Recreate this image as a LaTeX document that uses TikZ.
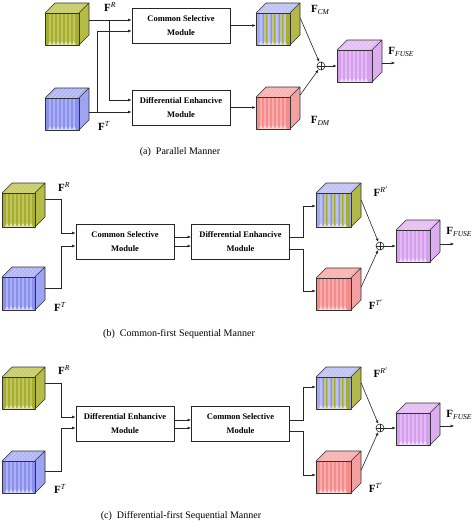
\documentclass[tikz,border=0pt]{standalone}
\usepackage{fontspec}
\setmainfont{Liberation Serif}
\usetikzlibrary{arrows.meta,fit}
\definecolor{gfront}{HTML}{A6AE2E}\definecolor{glight}{HTML}{D0D47E}\definecolor{gtop}{HTML}{C6CB68}\definecolor{gside}{HTML}{B4BB46}
\definecolor{bfront}{HTML}{8A90EE}\definecolor{blight}{HTML}{C2C6F8}\definecolor{btop}{HTML}{ACB0F3}\definecolor{bside}{HTML}{9EA4F2}
\definecolor{rfront}{HTML}{F48C8C}\definecolor{rlight}{HTML}{F9C0C0}\definecolor{rtop}{HTML}{F7AFAF}\definecolor{rside}{HTML}{F3A0A0}
\definecolor{pfront}{HTML}{D69EEE}\definecolor{plight}{HTML}{ECCDF8}\definecolor{ptop}{HTML}{E3BAF4}\definecolor{pside}{HTML}{DCADF1}
\definecolor{mfront}{HTML}{A4A9EF}\definecolor{mlight}{HTML}{CBCEF7}\definecolor{mtop}{HTML}{BEC1F2}\definecolor{mside}{HTML}{B2B84A}
\newcommand\drawcube[7]{%
  \fill[#6side] (#4,#3) -- (#4+10,#3-10) -- (#4+10,#5-10) -- (#4,#5) -- cycle;
  \fill[#6top] (#2,#3) -- (#2+10,#3-10) -- (#4+10,#3-10) -- (#4,#3) -- cycle;
  \fill[#6front] (#2,#3) rectangle (#4,#5);
  #7
  \foreach \sx in {4,8,...,30} {
    \fill[#6light,opacity=.6] (#2+\sx,#3) rectangle (#2+\sx+1.8,#5);
    \fill[#6light] (#2+\sx,#3) -- (#2+\sx+10,#3-10) -- (#2+\sx+11.8,#3-10) -- (#2+\sx+1.8,#3) -- cycle;
    \fill[white,opacity=.5] (#2+\sx-1.5,#5) -- (#2+\sx+0.9,#5-4) -- (#2+\sx+3.3,#5) -- cycle;
  }
  \draw[cubeedge] (#2,#3) rectangle (#4,#5);
  \draw[cubeedge] (#2,#3) -- (#2+10,#3-10) -- (#4+10,#3-10) -- (#4+10,#5-10) -- (#4,#5) (#4+10,#3-10) -- (#4,#3);
  \node[fit={(#2,#3-10) (#4+10,#5)}, inner sep=0] (#1) {};
}
\newcommand\greenbands[3]{%
  \foreach \sx in {7,15,23} {\fill[gfront] (#1+\sx,#2) rectangle (#1+\sx+4,#3);}
  \fill[gfront] (#1+30,#2) rectangle (#1+34,#3);
}
\newcommand\mysup[1]{\textsuperscript{\itshape #1}}
\newcommand\mysub[1]{\raisebox{-.5ex}{\fontsize{7.5}{8}\selectfont\itshape #1}}
\tikzset{
  conn/.style={draw=black!85, line width=0.6pt},
  arr/.style={conn, -{Latex[length=3.5pt,width=2.8pt]}},
  modbox/.style={draw=black!85, line width=0.7pt, minimum width=98pt, minimum height=35pt, inner sep=0, align=center, font=\fontsize{8.5}{14}\selectfont\bfseries},
  lab/.style={font=\fontsize{11}{12}\selectfont, inner sep=0},
  captext/.style={font=\fontsize{10}{12}\selectfont, inner sep=0},
  osum/.style={draw=black!85, circle, minimum size=8pt, inner sep=0, line width=0.6pt},
  cubeedge/.style={draw=black!80, line width=0.6pt, line join=round},
}
\begin{document}
\begin{tikzpicture}[x=1pt,y=-1pt]
\useasboundingbox[fill=white] (0,0) rectangle (474,523);
% ---------------- (a) ----------------
\drawcube{gA}{45}{13}{79}{45}{g}{}
\drawcube{bA}{45}{98}{79}{130}{b}{}
\node[modbox] (csA) at (181,25.5) {Common Selective\\Module};
\node[modbox] (deA) at (181,107.5) {Differential Enhancive\\Module};
\coordinate (gAo) at ([yshift=4pt]gA.east);
\coordinate (bAo) at ([yshift=-3pt]bA.east);
\draw[arr] (gAo) -- (gAo -| csA.west);
\draw[arr] (gAo) ++(20,0) |- ([yshift=7.5pt]deA.west);
\draw[arr] (bAo) -- (bAo -| deA.west);
\draw[arr] (bAo) ++(8,0) |- ([yshift=-5.5pt]csA.west);
\drawcube{cmA}{256}{13}{290}{45}{m}{\greenbands{256}{13}{45}}
\drawcube{dmA}{256}{97}{290}{129}{r}{}
\draw[arr] (csA.east) -- (csA.east -| cmA.west);
\draw[arr] (deA.east) -- (deA.east -| dmA.west);
\node[osum] (oA) at (321,66) {};
\draw[conn] (oA.north) -- (oA.south) (oA.east) -- (oA.west);
\draw[arr] ([yshift=6pt]cmA.east) -- (oA);
\draw[arr] ([yshift=13pt]dmA.east) -- (oA);
\drawcube{fuA}{337}{50}{372}{82}{p}{}
\draw[arr] (oA) -- (oA -| fuA.west);
\draw[arr] ([yshift=-2pt]fuA.east) -- ++(13,0);
\node[lab] (lRa) at (110,7) {\textbf{F}\mysup{R}};
\node[lab] (lTa) at (104,126) {\textbf{F}\mysup{T}};
\node[lab] (lCM) at (320,10) {\textbf{F}\mysub{CM}};
\node[lab] (lDM) at (320,121) {\textbf{F}\mysub{DM}};
\node[lab] (lFa) at (401,52) {\textbf{F}\mysub{FUSE}};
\node[captext] (capa) at (180,152) {(a)\enspace Parallel Manner};
% ---------------- (b) ----------------
\drawcube{gB}{2}{193}{35}{227}{g}{}
\drawcube{bB}{2}{277}{35}{310}{b}{}
\node[modbox] (csB) at (125,241.5) {Common Selective\\Module};
\node[modbox] (deB) at (240.5,241.5) {Differential Enhancive\\Module};
\draw[arr] ([yshift=6pt]gB.east) -- ++(16,0) |- ([yshift=8.5pt]csB.west);
\draw[arr] ([yshift=0.5pt]bB.east) -- ++(16,0) |- ([yshift=-4.5pt]csB.west);
\draw[arr] ([yshift=4.5pt]csB.east) -- ([yshift=4.5pt]deB.west);
\draw[arr] ([yshift=-4.5pt]csB.east) -- ([yshift=-4.5pt]deB.west);
\drawcube{rpB}{316}{193}{351}{227}{m}{\greenbands{316}{193}{227}}
\drawcube{tpB}{316}{278}{351}{310}{r}{}
\draw[arr] ([yshift=4.5pt]deB.east) -- ++(13,0) |- ([yshift=-1pt]rpB.west);
\draw[arr] ([yshift=-7.5pt]deB.east) -- ++(13,0) |- ([yshift=-2pt]tpB.west);
\node[osum] (oB) at (380,246) {};
\draw[conn] (oB.north) -- (oB.south) (oB.east) -- (oB.west);
\draw[arr] ([yshift=5pt]rpB.east) -- (oB);
\draw[arr] ([yshift=2pt]tpB.east) -- (oB);
\drawcube{fuB}{396}{230}{430}{262}{p}{}
\draw[arr] (oB) -- (oB -| fuB.west);
\draw[arr] ([yshift=-3pt]fuB.east) -- ++(14,0);
\node[lab] (lRb) at (64,187) {\textbf{F}\mysup{R}};
\node[lab] (lTb) at (60,307) {\textbf{F}\mysup{T}};
\node[lab] (lRpb) at (381,192) {\textbf{F}\mysup{R$'$}};
\node[lab] (lTpb) at (376,305) {\textbf{F}\mysup{T$'$}};
\node[lab] (lFb) at (459,232) {\textbf{F}\mysub{FUSE}};
\node[captext] (capb) at (179,334) {(b)\enspace Common-first Sequential Manner};
% ---------------- (c) ----------------
\drawcube{gC}{2}{377}{35}{409}{g}{}
\drawcube{bC}{2}{461}{35}{493}{b}{}
\node[modbox] (deC) at (125,423.5) {Differential Enhancive\\Module};
\node[modbox] (csC) at (240.5,423.5) {Common Selective\\Module};
\draw[arr] ([yshift=5pt]gC.east) -- ++(16,0) |- ([yshift=6.5pt]deC.west);
\draw[arr] ([yshift=1pt]bC.east) -- ++(16,0) |- ([yshift=-4.5pt]deC.west);
\draw[arr] ([yshift=3.5pt]deC.east) -- ([yshift=3.5pt]csC.west);
\draw[arr] ([yshift=-4.5pt]deC.east) -- ([yshift=-4.5pt]csC.west);
\drawcube{rpC}{316}{377}{351}{409}{m}{\greenbands{316}{377}{409}}
\drawcube{tpC}{316}{461}{351}{493}{r}{}
\draw[arr] ([yshift=3.5pt]csC.east) -- ++(13,0) |- ([yshift=1pt]rpC.west);
\draw[arr] ([yshift=-7.5pt]csC.east) -- ++(13,0) |- ([yshift=-3pt]tpC.west);
\node[osum] (oC) at (380,428) {};
\draw[conn] (oC.north) -- (oC.south) (oC.east) -- (oC.west);
\draw[arr] ([yshift=5pt]rpC.east) -- (oC);
\draw[arr] ([yshift=2pt]tpC.east) -- (oC);
\drawcube{fuC}{396}{413}{430}{445}{p}{}
\draw[arr] (oC) -- (oC -| fuC.west);
\draw[arr] ([yshift=-2pt]fuC.east) -- ++(14,0);
\node[lab] (lRc) at (64,370) {\textbf{F}\mysup{R}};
\node[lab] (lTc) at (60,489) {\textbf{F}\mysup{T}};
\node[lab] (lRpc) at (381,373) {\textbf{F}\mysup{R$'$}};
\node[lab] (lTpc) at (376,488) {\textbf{F}\mysup{T$'$}};
\node[lab] (lFc) at (459,415) {\textbf{F}\mysub{FUSE}};
\node[captext] (capc) at (181,516) {(c)\enspace Differential-first Sequential Manner};
\end{tikzpicture}
\end{document}
